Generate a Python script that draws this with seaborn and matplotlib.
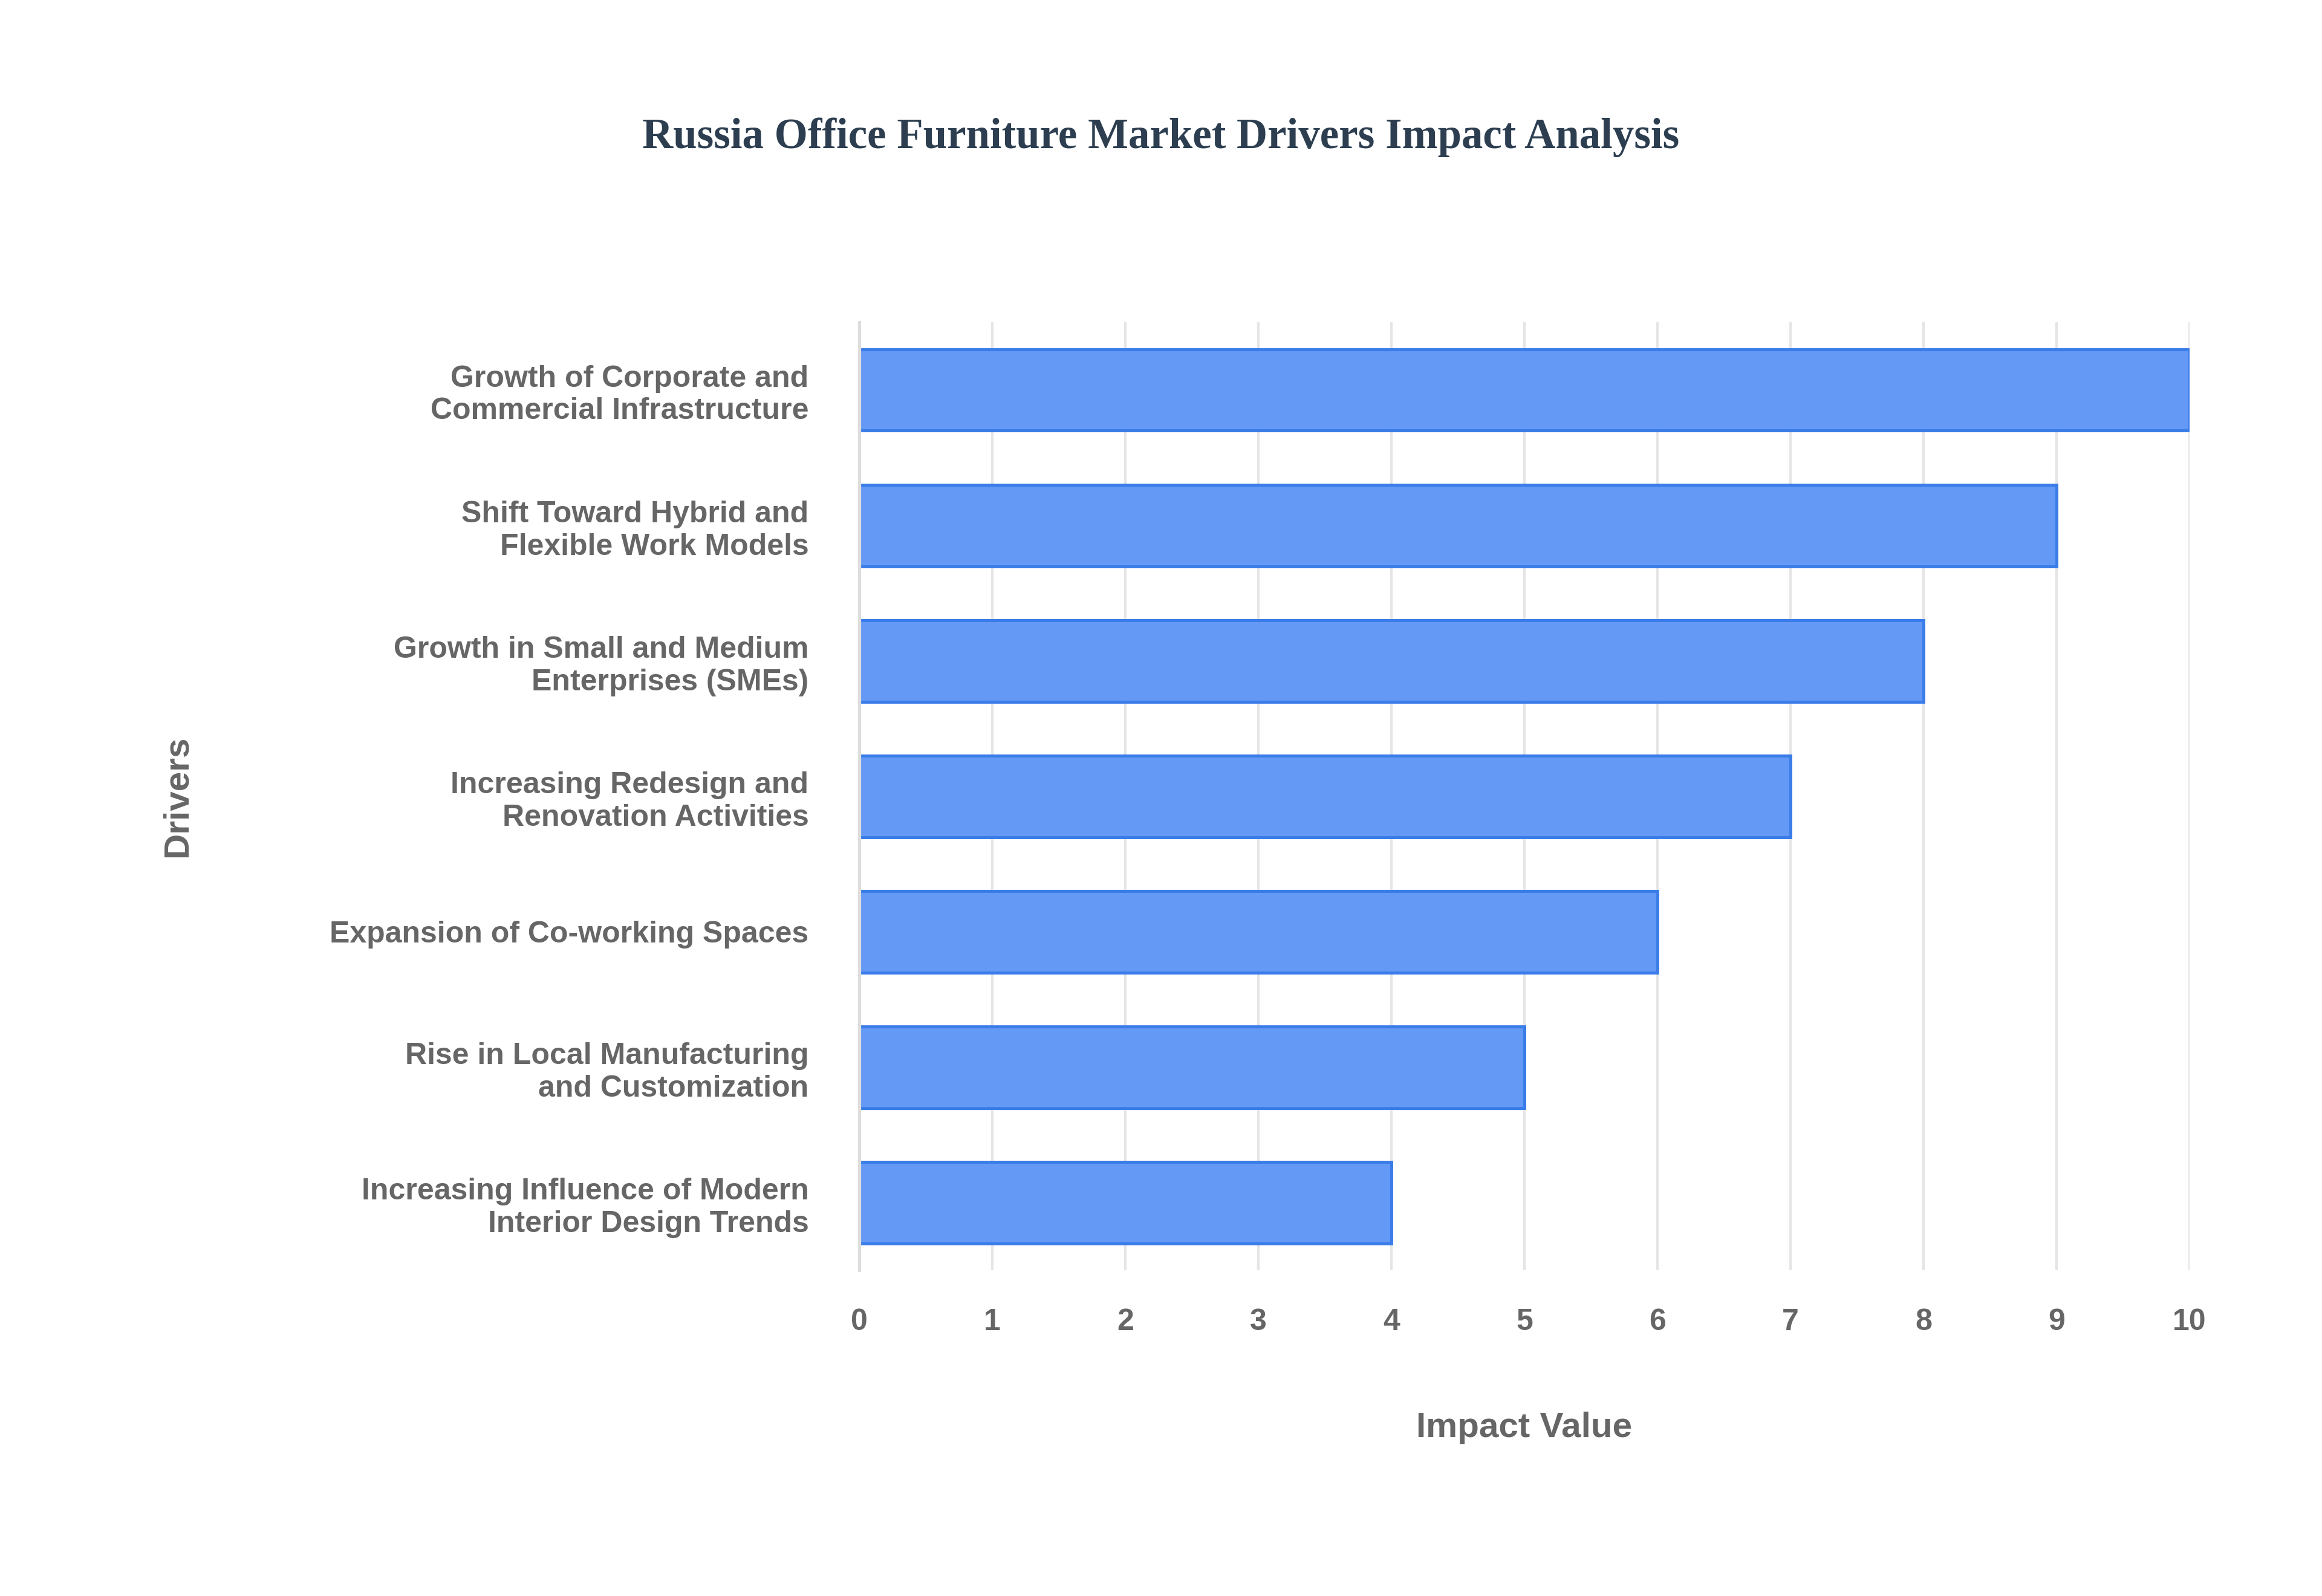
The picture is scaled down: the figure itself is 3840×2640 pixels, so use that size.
import matplotlib
matplotlib.use("Agg")
import matplotlib.pyplot as plt
import seaborn as sns
import pandas as pd

drivers = ["Growth of Corporate and\nCommercial Infrastructure",
           "Shift Toward Hybrid and\nFlexible Work Models",
           "Growth in Small and Medium\nEnterprises (SMEs)",
           "Increasing Redesign and\nRenovation Activities",
           "Expansion of Co-working Spaces",
           "Rise in Local Manufacturing\nand Customization",
           "Increasing Influence of Modern\nInterior Design Trends"]
values = [10, 9, 8, 7, 6, 5, 4]
xticks = list(range(0, 11))

df = pd.DataFrame({"Drivers": drivers, "Impact Value": values})

sns.set_theme(style="white")
plt.rcParams['font.family'] = ['Liberation Sans', 'DejaVu Sans']

fig = plt.figure(figsize=(12.8, 8.8), dpi=300)
ax = fig.add_axes([0.37, 0.204, 0.573, 0.594])
sns.barplot(data=df, x="Impact Value", y="Drivers", orient="h", color="#6499f5",
            edgecolor="#3b7de8", linewidth=1.2, width=0.6, saturation=1, ax=ax)
ax.set_xlim(0, 10)
ax.set_xticks(xticks)
ax.set_xticklabels([str(t) for t in xticks], fontsize=12, fontweight='bold', color='#666666')
ax.tick_params(axis='x', length=5, color='#dddddd', pad=10)
ax.tick_params(axis='y', length=0, pad=20)
for lab in ax.get_yticklabels():
    lab.set_fontsize(12); lab.set_fontweight('bold'); lab.set_color('#666666')
ax.xaxis.grid(True, color='#e5e5e5', linewidth=1)
ax.set_axisbelow(True)
for s in ["top", "right", "bottom"]:
    ax.spines[s].set_visible(False)
ax.spines["left"].set_color('#dddddd')
ax.set_xlabel("Impact Value", fontsize=14, fontweight='bold', color='#666666', labelpad=30)
ax.set_ylabel("Drivers", fontsize=14, fontweight='bold', color='#666666', labelpad=20)
ax.yaxis.set_label_coords(-0.5, 0.5)
fig.text(0.5, 0.914, "Russia Office Furniture Market Drivers Impact Analysis", ha='center', va='center',
         fontsize=17, fontweight='bold', color='#2c3e50', family=['Liberation Serif', 'DejaVu Serif'])
fig.savefig("out.png", dpi=300, facecolor='white')
